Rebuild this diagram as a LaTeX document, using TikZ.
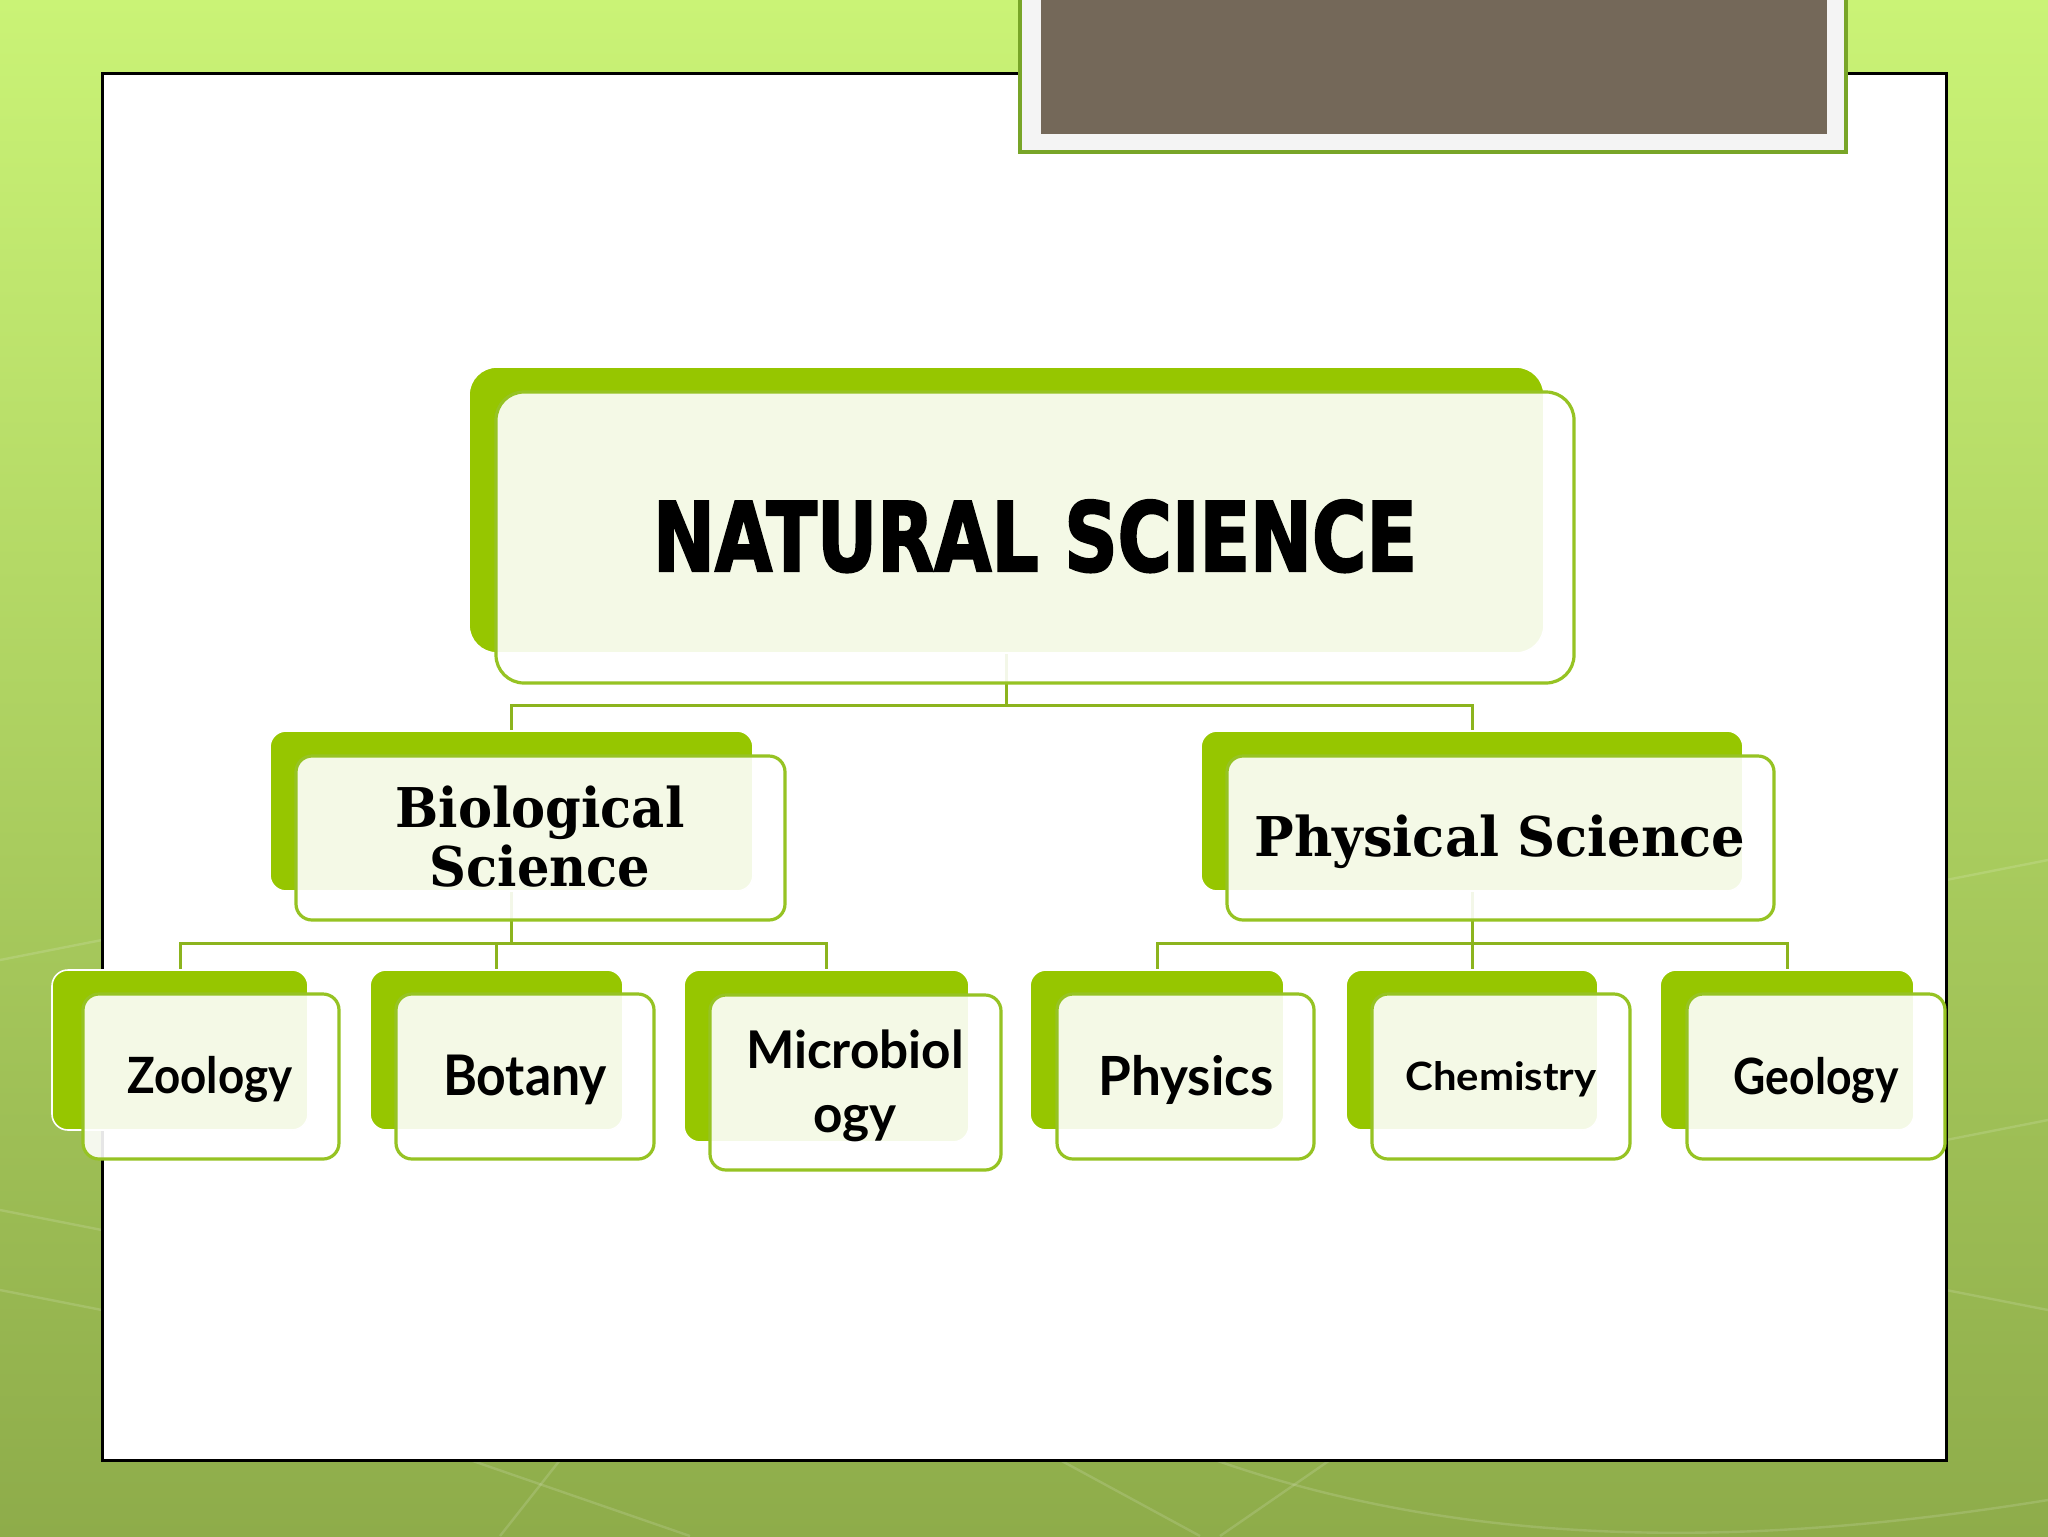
\documentclass[tikz,border=0pt]{standalone}
\usepackage{fontspec}
\usepackage{graphicx}
\usetikzlibrary{fit,calc}
\newfontfamily\natfont{DejaVu Sans}[BoldFeatures={FakeBold=2.5}]
\newfontfamily\serfont{DejaVu Serif}
\newfontfamily\comfont{Lato}
\definecolor{bgtop}{RGB}{202,243,118}
\definecolor{bgmid}{RGB}{180,220,98}
\definecolor{bgbot}{RGB}{142,172,74}
\definecolor{leaf}{RGB}{150,198,0}
\definecolor{edgegreen}{RGB}{150,195,35}
\definecolor{linkgreen}{RGB}{140,180,30}
\definecolor{taupe}{RGB}{116,104,89}
\definecolor{framegray}{RGB}{244,244,244}
\definecolor{framegreen}{RGB}{120,165,40}
\pgfdeclarelayer{bg}
\pgfsetlayers{bg,main}
\begin{document}
\begin{tikzpicture}[x=0.5pt,y=-0.5pt,
  backbox/.style={fill=leaf, draw=white, line width=0.8pt, rounded corners=8pt, inner sep=0pt, outer sep=0pt},
  frontbox/.style={fill=white, fill opacity=0.9, draw=edgegreen, line width=1.6pt, rounded corners=8pt, inner sep=0pt, outer sep=0pt},
  link/.style={draw=linkgreen, line width=1.5pt},
  lbl/.style={text=black, inner sep=0pt, anchor=base},
  faint/.style={draw=white, opacity=0.14, line width=1.2pt}]
\useasboundingbox (0,0) rectangle (2048,1536);
\begin{pgfonlayer}{bg}
  % background
  \fill[top color=bgtop, middle color=bgmid, bottom color=bgbot] (0,0) rectangle (2048,1536);
  \draw[faint] (1215,1460) .. controls (1500,1560) and (1800,1540) .. (2048,1500);
  \draw[faint] (470,1460) -- (690,1536);
  \draw[faint] (500,1536) -- (560,1460);
  \draw[faint] (1060,1460) -- (1200,1536);
  \draw[faint] (1330,1460) -- (1220,1536);
  \draw[faint] (1946,880) -- (2048,860);
  \draw[faint] (1946,1140) -- (2048,1120);
  \draw[faint] (1946,1290) -- (2048,1310);
  \draw[faint] (0,1210) -- (102,1230);
  \draw[faint] (0,1290) -- (102,1310);
  \draw[faint] (0,960) -- (102,940);
  % slide
  \draw[black, line width=1.5pt, fill=white] (102,74) rectangle (1946,1460);
  % title placeholder frame
  \fill[framegray] (1020,-5) rectangle (1846,152);
  \draw[framegreen, line width=1.6pt] (1020,-5) -- (1020,152) -- (1846,152) -- (1846,-5);
  \fill[taupe] (1041,-5) rectangle (1827,134);
\end{pgfonlayer}

% ---------- boxes ----------
\node[backbox, rounded corners=14pt, fit={(469,367) (1544,653)}] (nsB) {};
\node[frontbox, rounded corners=14pt, fit={(496,392) (1574,683)}] (nsF) {};
\node[lbl] (nsT) at (1035,571) {\resizebox{382pt}{35.5pt}{\natfont\bfseries NATURAL SCIENCE}};

\node[backbox, fit={(270,731) (753,891)}] (bioB) {};
\node[frontbox, fit={(296,756) (785,920)}] (bioF) {};
\node[lbl] (bioT) at (540,827) {\resizebox{144.5pt}{\height}{\serfont\bfseries\fontsize{27.4}{29}\selectfont\begin{tabular}[t]{@{}c@{}}Biological\\Science\end{tabular}}};

\node[backbox, fit={(1201,731) (1743,891)}] (phyB) {};
\node[frontbox, fit={(1227,756) (1774,920)}] (phyF) {};
\node[lbl] (phyT) at (1500,856) {\resizebox{245.5pt}{\height}{\serfont\bfseries\fontsize{27.4}{29}\selectfont Physical Science}};

\node[backbox, fit={(52,970) (308,1130)}] (zooB) {};
\node[frontbox, fit={(83,994) (339,1159)}] (zooF) {};
\node[lbl] (zooT) at (210,1093) {\resizebox{82.5pt}{\height}{\comfont\bfseries\fontsize{25}{30}\selectfont Zoology}};

\node[backbox, fit={(370,970) (623,1130)}] (botB) {};
\node[frontbox, fit={(396,994) (654,1159)}] (botF) {};
\node[lbl] (botT) at (525,1095) {\resizebox{82pt}{\height}{\comfont\bfseries\fontsize{28}{32}\selectfont Botany}};

\node[backbox, fit={(684,970) (969,1142)}] (micB) {};
\node[frontbox, fit={(710,995) (1001,1170)}] (micF) {};
\node[lbl] (micT) at (855,1068) {\resizebox{109pt}{\height}{\comfont\bfseries\fontsize{26}{32}\selectfont\begin{tabular}[t]{@{}c@{}}Microbiol\\ogy\end{tabular}}};

\node[backbox, fit={(1030,970) (1284,1130)}] (physB) {};
\node[frontbox, fit={(1057,994) (1314,1159)}] (physF) {};
\node[lbl] (physT) at (1186,1095) {\resizebox{87.5pt}{\height}{\comfont\bfseries\fontsize{27}{32}\selectfont Physics}};

\node[backbox, fit={(1346,970) (1598,1130)}] (chemB) {};
\node[frontbox, fit={(1372,994) (1630,1159)}] (chemF) {};
\node[lbl] (chemT) at (1501,1090) {\resizebox{95.5pt}{\height}{\comfont\bfseries\fontsize{19.5}{24}\selectfont Chemistry}};

\node[backbox, fit={(1660,970) (1914,1130)}] (geoB) {};
\node[frontbox, fit={(1687,994) (1945,1159)}] (geoF) {};
\node[lbl] (geoT) at (1816,1094) {\resizebox{82.5pt}{\height}{\comfont\bfseries\fontsize{25}{30}\selectfont Geology}};

% ---------- connectors ----------
\begin{pgfonlayer}{bg}
  \coordinate (j1) at ($(nsB.south)+(0,52)$);
  \coordinate (j2) at ($(bioB.south)+(0,52)$);
  \coordinate (j3) at ($(phyB.south)+(0,52)$);
  \draw[link] (nsB.south) -- (j1);
  \draw[link] (j1) -| (bioB.north);
  \draw[link] (j1) -| (phyB.north);
  \draw[link] (bioB.south) -- (j2);
  \draw[link] (j2) -| (zooB.north);
  \draw[link] (j2) -| (botB.north);
  \draw[link] (j2) -| (micB.north);
  \draw[link] (phyB.south) -- (j3);
  \draw[link] (j3) -| (physB.north);
  \draw[link] (j3) -- (chemB.north);
  \draw[link] (j3) -| (geoB.north);
\end{pgfonlayer}
\end{tikzpicture}
\end{document}
